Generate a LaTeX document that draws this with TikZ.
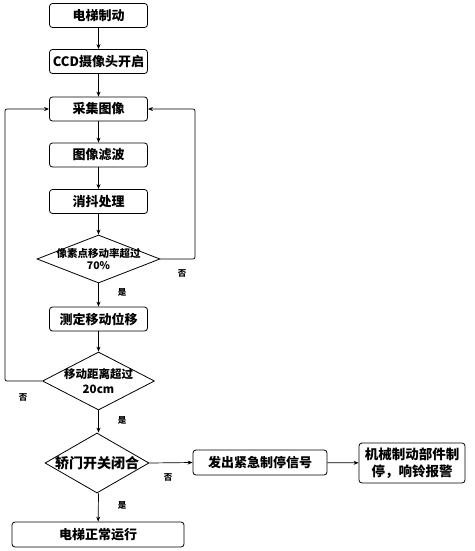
\documentclass[tikz,border=0pt]{standalone}
\usepackage{fontspec}
\setmainfont{Noto Sans CJK SC}
\usetikzlibrary{shapes.geometric,arrows.meta}
\begin{document}
\begin{tikzpicture}[x=1pt,y=-1pt,
  box/.style={draw, rounded corners=3pt, line width=0.8pt, minimum height=24pt, minimum width=98pt, font=\fontsize{13}{15}\selectfont\bfseries, inner sep=1pt},
  dia/.style={draw, diamond, line width=0.8pt, inner sep=0pt},
  dtext/.style={align=center, inner sep=0pt, font=\bfseries},
  arr/.style={-{Stealth[length=5pt,width=4pt]}, line width=0.7pt},
  lbl/.style={font=\fontsize{8.5}{9}\selectfont\bfseries, inner sep=0pt}]
\useasboundingbox (0,0) rectangle (474,551);
\node[box] (n1) at (98.5,15.5) {电梯制动};
\node[box] (n2) at (98.5,61.5) {CCD摄像头开启};
\node[box] (n3) at (98.5,109) {采集图像};
\node[box] (n4) at (98.5,155) {图像滤波};
\node[box] (n5) at (98.5,201.5) {消抖处理};
\node[dia, minimum width=123pt, minimum height=48pt] (d1) at (98.5,259) {};
\node[dtext, font=\fontsize{10.5}{12}\selectfont\bfseries] (d1t) at (98.5,259) {像素点移动率超过\\70\%};
\node[box] (n6) at (98.5,319) {测定移动位移};
\node[dia, minimum width=112pt, minimum height=58pt] (d2) at (98.5,381) {};
\node[dtext, font=\fontsize{11.5}{15}\selectfont\bfseries] (d2t) at (98.5,381) {移动距离超过\\20cm};
\node[dia, minimum width=104pt, minimum height=60pt] (d3) at (97,463) {};
\node[dtext, font=\fontsize{14}{16}\selectfont\bfseries] (d3t) at (97,463) {轿门开关闭合};
\node[box, minimum width=134pt, minimum height=25pt] (n7) at (260,462.5) {发出紧急制停信号};
\node[box, minimum width=106pt, minimum height=40pt, align=center, font=\fontsize{13.5}{17}\selectfont\bfseries] (n8) at (412,463) {机械制动部件制\\停，响铃报警};
\node[box, minimum width=172pt, minimum height=25pt] (n9) at (98,534.5) {电梯正常运行};
\coordinate (r1) at (195,259);
\coordinate (l1) at (5,381);
\draw[arr] (n1) -- (n2);
\draw[arr] (n2) -- (n3);
\draw[arr] (n3) -- (n4);
\draw[arr] (n4) -- (n5);
\draw[arr] (n5) -- (d1.north);
\draw[arr] (d1.south) -- (n6);
\draw[arr, rounded corners=2pt] (d1.east) -- (r1) |- (n3.east);
\draw[arr] (n6) -- (d2.north);
\draw[arr, rounded corners=2pt] (d2.west) -- (l1) |- (n3.west);
\draw[arr] (d2.south) -- (d2.south |- d3.north);
\draw[arr] (d3.east) -- (n7.west);
\draw[arr] (n7) -- (n8);
\draw[arr] (d3.south -| d2.south) -- (n9);
\node[lbl] (o1) at (182,273) {否};
\node[lbl] (y1) at (122,292) {是};
\node[lbl] (o2) at (23,397) {否};
\node[lbl] (y2) at (122,420) {是};
\node[lbl] (o3) at (168,477) {否};
\node[lbl] (y3) at (122,505) {是};
\end{tikzpicture}
\end{document}
